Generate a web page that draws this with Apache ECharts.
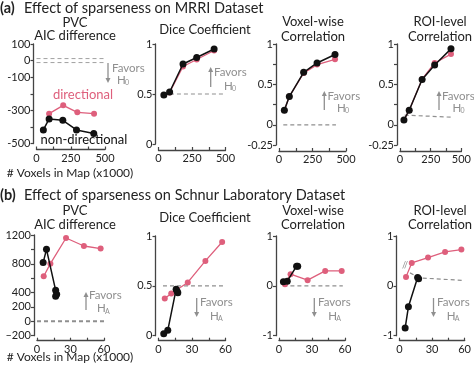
<!DOCTYPE html>
<html><head><meta charset="utf-8">
<script src="https://cdn.jsdelivr.net/npm/echarts@6/dist/echarts.min.js"></script>
<style>html,body{margin:0;padding:0;background:#fff}#c{width:474px;height:369px}</style>
</head><body><div id="c"></div>
<script>
// ---------- DATA ----------
// (a) MRRI dataset, x = # voxels in map (x1000)
const pvcA_dirX = [92, 195, 298, 420];
const pvcA_dir  = [-320, -270, -312, -320];
const pvcA_nonX = [50, 92, 192, 292, 418];
const pvcA_non  = [-418, -352, -360, -418, -440];
const pvcA_refs = [12, -12];

const diceA_x   = [40, 83, 183, 285, 415];
const diceA_dir = [0.49, 0.515, 0.775, 0.845, 0.935];
const diceA_non = [0.49, 0.52, 0.80, 0.865, 0.95];
const diceA_ref = [[33, 0.5], [500, 0.5]];

const voxA_x   = [40, 77, 184, 284, 418];
const voxA_dir = [0.18, 0.35, 0.64, 0.745, 0.81];
const voxA_non = [0.18, 0.35, 0.65, 0.765, 0.87];
const voxA_ref = [[32, 0], [425, 0]];

const roiA_x   = [32, 75, 180, 282, 415];
const roiA_dir = [0.06, 0.18, 0.565, 0.765, 0.875];
const roiA_non = [0.06, 0.18, 0.56, 0.74, 0.94];
const roiA_ref = [[38, 0.12], [436, 0.093]];

// (b) Schnur Laboratory dataset
const pvcB_dirX = [6, 12, 26, 42, 57];
const pvcB_dir  = [626, 802, 1158, 1047, 1011];
const pvcB_nonX = [5.5, 8.5, 16.7, 17.6, 16.7];
const pvcB_non  = [816, 1001, 431, 375, 348];
const pvcB_ref  = [[0, 0], [60, 0]];

const diceB_dirX = [5.6, 11.4, 26.2, 42, 57];
const diceB_dir  = [0.374, 0.424, 0.534, 0.75, 0.94];
const diceB_nonX = [4.7, 8.3, 15.8, 16.7, 17.3];
const diceB_non  = [0.02, 0.054, 0.467, 0.447, 0.43];
const diceB_ref  = [[4, 0.5], [60, 0.5]];

const voxB_dirX = [5.4, 10.5, 26, 42, 57];
const voxB_dir  = [0.034, 0.234, 0.114, 0.3, 0.3];
const voxB_nonX = [4, 7.5, 16, 17];
const voxB_non  = [0.08, 0.094, 0.394, 0.394];
const voxB_ref  = [[4, 0], [58, 0]];

const roiB_dirX = [6, 11.3, 26.3, 42, 57];
const roiB_dir  = [0.18, 0.46, 0.568, 0.68, 0.728];
const roiB_nonX = [5.2, 8.2, 16.7, 17.6];
const roiB_non  = [-0.846, -0.42, 0.168, 0.14];
const roiB_ref  = [[9.7, 0.26], [18, 0.16], [58, 0.11]];

// tick labels
const xLabelsA = [0, 250, 500];
const xLabelsB = [0, 30, 60];
const pvcA_yLabels = [100, 0, -100, -300, -500];
const pvcB_yLabels = [1200, 800, 400, 200, 0, -200];

// ---------- STYLE ----------
const FONT = 'Lato';
const PINK = '#de5f7c';
const BLACK = '#111111';
const GRAY = '#8f8f8f';
const AXC = '#444444';

const zip = (xs, ys) => xs.map((x, i) => [x, ys[i]]);

const grids = [], xAxes = [], yAxes = [], series = [];

function addPanel(p) {
  const i = grids.length;
  grids.push({left: p.left, top: p.top, width: p.w, height: p.h, containLabel: false});
  xAxes.push({
    gridIndex: i, type: 'value', min: p.xmin, max: p.xmax, interval: p.xint,
    offset: p.xoff, position: 'bottom',
    axisLine: {onZero: false, lineStyle: {color: AXC, width: 1.3}},
    axisTick: {inside: true, length: 3, lineStyle: {color: AXC, width: 1.2}},
    axisLabel: {margin: 3, fontFamily: FONT, fontSize: 11, color: '#222',
      formatter: v => p.xLabels.some(l => Math.abs(l - v) < 1e-9) ? String(v) : ''},
    splitLine: {show: false}
  });
  yAxes.push({
    gridIndex: i, type: 'value', min: p.ymin, max: p.ymax, interval: p.yint,
    offset: 3, position: 'left',
    axisLine: {show: true, onZero: false, lineStyle: {color: AXC, width: 1.3}},
    axisTick: {show: true, inside: false, length: 3, lineStyle: {color: AXC, width: 1.2}},
    axisLabel: {margin: 3, fontFamily: FONT, fontSize: 11, color: '#222',
      formatter: v => {
        if (p.yLabels && !p.yLabels.some(l => Math.abs(l - v) < 1e-9)) return '';
        let s = String(Math.round(v * 1000) / 1000);
        if (p.enDash) s = s.replace('-', '\u2013');
        return s;
      }},
    splitLine: {show: false}
  });
  (p.refs || []).forEach(r => series.push({
    type: 'line', xAxisIndex: i, yAxisIndex: i, data: r, symbol: 'none', silent: true,
    lineStyle: {color: p.refC || GRAY, width: p.refW || 1.2, type: [4, 3]}, z: 1, animation: false
  }));
  if (p.dir) series.push({
    type: 'line', xAxisIndex: i, yAxisIndex: i, data: p.dir, symbol: 'circle', symbolSize: 6,
    lineStyle: {color: PINK, width: 1.3}, itemStyle: {color: PINK}, z: 2, animation: false
  });
  if (p.non) series.push({
    type: 'line', xAxisIndex: i, yAxisIndex: i, data: p.non, symbol: 'circle', symbolSize: 7,
    lineStyle: {color: BLACK, width: 1.5}, itemStyle: {color: BLACK}, z: 3, animation: false
  });
}

const rowA = {xmin: 0, xmax: 500, xint: 125, xLabels: xLabelsA, xoff: 6};
const rowB = {xmin: 0, xmax: 60, xint: 15, xLabels: xLabelsB, xoff: 5};

addPanel(Object.assign({}, rowA, {left: 36.5, top: 44, w: 68.5, h: 99.5, ymin: -500, ymax: 100, yint: 100,
  yLabels: pvcA_yLabels, dir: zip(pvcA_dirX, pvcA_dir), non: zip(pvcA_nonX, pvcA_non),
  refs: pvcA_refs.map(v => [[0, v], [500, v]]), refW: 1, refC: '#a0a0a0'}));
addPanel(Object.assign({}, rowA, {left: 158.5, top: 44, w: 67, h: 100, ymin: 0, ymax: 1, yint: 0.5,
  dir: zip(diceA_x, diceA_dir), non: zip(diceA_x, diceA_non), refs: [diceA_ref]}));
addPanel(Object.assign({}, rowA, {left: 279, top: 44, w: 67, h: 101, ymin: -0.25, ymax: 1, yint: 0.25,
  yLabels: [1, 0.5, 0, -0.25], dir: zip(voxA_x, voxA_dir), non: zip(voxA_x, voxA_non), refs: [voxA_ref]}));
addPanel(Object.assign({}, rowA, {left: 400, top: 44, w: 66, h: 101, ymin: -0.25, ymax: 1, yint: 0.25,
  yLabels: [1, 0.5, 0, -0.25], dir: zip(roiA_x, roiA_dir), non: zip(roiA_x, roiA_non), refs: [roiA_ref]}));

addPanel(Object.assign({}, rowB, {left: 37, top: 235, w: 67, h: 100.7, ymin: -200, ymax: 1200, yint: 200,
  yLabels: pvcB_yLabels, enDash: true, dir: zip(pvcB_dirX, pvcB_dir), non: zip(pvcB_nonX, pvcB_non),
  refs: [pvcB_ref], refW: 2}));
addPanel(Object.assign({}, rowB, {left: 158.5, top: 236, w: 67, h: 99.7, ymin: 0, ymax: 1, yint: 0.5,
  dir: zip(diceB_dirX, diceB_dir), non: zip(diceB_nonX, diceB_non), refs: [diceB_ref]}));
addPanel(Object.assign({}, rowB, {left: 279, top: 236, w: 66, h: 99.7, ymin: -1, ymax: 1, yint: 1,
  dir: zip(voxB_dirX, voxB_dir), non: zip(voxB_nonX, voxB_non), refs: [voxB_ref]}));
addPanel(Object.assign({}, rowB, {left: 399.5, top: 236, w: 66, h: 99.7, ymin: -1, ymax: 1, yint: 1,
  dir: zip(roiB_dirX, roiB_dir), non: zip(roiB_nonX, roiB_non), refs: [roiB_ref]}));

// ---------- ANNOTATIONS ----------
const G = [];
function txt(t, x, y, o) {
  o = o || {};
  G.push({type: 'text', z: 10, style: {text: t, x: x, y: y,
    font: (o.bold ? 'bold ' : '') + (o.size || 13) + 'px ' + FONT,
    fill: o.color || '#222', textAlign: o.align || 'center', textVerticalAlign: 'middle',
    align: o.align || 'center', verticalAlign: 'middle'}});
}
function arrow(x, yFrom, yTip) {
  const d = yTip < yFrom ? 1 : -1;
  G.push({type: 'line', z: 10, shape: {x1: x, y1: yFrom, x2: x, y2: yTip + d * 3},
    style: {stroke: GRAY, lineWidth: 1.3}});
  G.push({type: 'polygon', z: 10, shape: {points: [[x, yTip], [x - 2.5, yTip + d * 5], [x + 2.5, yTip + d * 5]]},
    style: {fill: GRAY}});
}
function favors(ax, yFrom, yTip, fx, fy, hx, hy, sub) {
  arrow(ax, yFrom, yTip);
  txt('Favors', fx, fy, {align: 'left', color: GRAY, size: 11.5});
  txt('H', hx, hy, {align: 'left', color: GRAY, size: 11.5});
  txt(sub, hx + 8, hy + 3, {align: 'left', color: GRAY, size: 7});
}

// titles
txt('(a)', 0, 8, {align: 'left', bold: true, size: 14.5});
txt('Effect of sparseness on MRRI Dataset', 24, 8, {align: 'left', size: 14.5});
txt('(b)', 0, 195, {align: 'left', bold: true, size: 14.5});
txt('Effect of sparseness on Schnur Laboratory Dataset', 24, 195, {align: 'left', size: 14.5});

// subplot titles
txt('PVC', 75, 23); txt('AIC difference', 75, 36);
txt('Dice Coefficient', 205, 30);
txt('Voxel-wise', 313, 22); txt('Correlation', 313, 37);
txt('ROI-level', 440, 22); txt('Correlation', 440, 37);
txt('PVC', 75, 210.5); txt('AIC difference', 75, 224.5);
txt('Dice Coefficient', 205, 218);
txt('Voxel-wise', 313, 210.5); txt('Correlation', 313, 224.5);
txt('ROI-level', 440, 210.5); txt('Correlation', 440, 224.5);

// series labels
txt('directional', 83, 94.5, {color: PINK, size: 13});
txt('non-directional', 84, 139.5, {color: '#111', size: 13});

// x axis titles
txt('# Voxels in Map (x1000)', 70, 173, {size: 12});
txt('# Voxels in Map (x1000)', 70, 357, {size: 12});

// favors arrows row a
favors(108, 63, 83, 112, 68, 117, 80, '0');
favors(210.7, 87, 67, 214, 72, 224, 86, '0');
favors(324.3, 110, 91, 327.5, 96, 337, 108, '0');
favors(439, 110, 91, 442, 96, 452.5, 108, '0');
// favors arrows row b
favors(86, 310, 292, 89, 295, 97, 308.5, 'A');
favors(196.7, 298, 317, 200, 302.7, 210, 316, 'A');
favors(314.3, 298, 317, 318, 302.7, 328.3, 316, 'A');
favors(433.5, 298, 317, 437, 302.7, 446.7, 316, 'A');

// break mark on ROI (b) reference line
txt('//', 405, 265, {color: GRAY, size: 9});

const chart = echarts.init(document.getElementById('c'), null, {renderer: 'canvas'});
chart.setOption({
  animation: false,
  backgroundColor: '#ffffff',
  textStyle: {fontFamily: FONT},
  grid: grids, xAxis: xAxes, yAxis: yAxes, series: series,
  graphic: G
});
</script></body></html>
